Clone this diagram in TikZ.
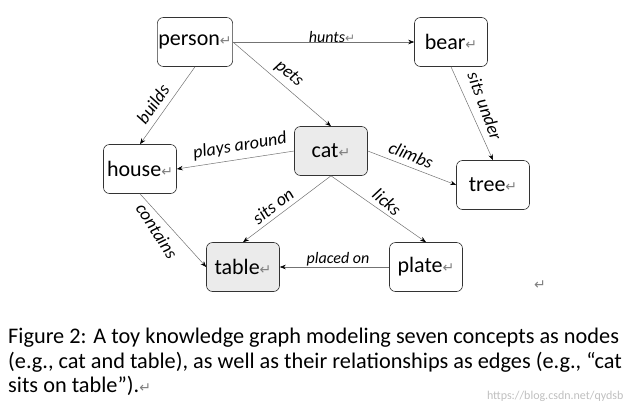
\documentclass[tikz,border=0pt]{standalone}
\usepackage{fontspec}
\setmainfont{Carlito}
\newfontfamily\symf{DejaVu Sans}
\usetikzlibrary{arrows.meta}
\newcommand{\parmk}{{\color{gray}\symf\fontsize{14}{14}\selectfont ↵}}
\newcommand{\parmks}{{\color{gray}\symf\fontsize{12}{12}\selectfont ↵}}
\begin{document}
\begin{tikzpicture}[x=1pt,y=-1pt,
  nd/.style={draw=black!80, rounded corners=6pt, minimum width=73pt, minimum height=49pt, font=\fontsize{22}{22}\selectfont, line width=0.6pt, inner sep=1pt},
  gr/.style={fill=black!8},
  ed/.style={draw=black!55, line width=0.5pt, -{Stealth[length=6pt,width=4.5pt,black]}},
  lb/.style={font=\itshape\fontsize{18}{18}\selectfont, inner sep=1pt}]
\useasboundingbox (0,0) rectangle (635,413);
\node[nd] (person) at (195,42) {person\parmk};
\node[nd] (bear) at (451,42) {bear\parmk};
\node[nd,gr] (cat) at (331,151) {cat\parmk};
\node[nd] (house) at (140,169) {house\parmk};
\node[nd] (tree) at (493,185) {tree\parmk};
\node[nd,gr] (table) at (243,267) {table\parmk};
\node[nd] (plate) at (426,267) {plate\parmk};
\draw[ed] (person.east) -- (bear.west);
\draw[ed] (person.east) -- (cat.north);
\draw[ed] (person.south) -- (house.north);
\draw[ed] (bear.south) -- (tree.north);
\draw[ed] (cat.west) -- (house.east);
\draw[ed] (cat.east) -- (tree.west);
\draw[ed] (cat.south) -- (table.north);
\draw[ed] (cat.south) -- (plate.north);
\draw[ed] (house.south) -- (table.west);
\draw[ed] (plate.west) -- (table.east);
\node[lb, font=\itshape\fontsize{16}{16}\selectfont] (l1) at (332,37) {hunts\parmks};
\node[lb,rotate=-40] (l2) at (289,74) {pets};
\node[lb,rotate=55] (l3) at (153,104) {builds};
\node[lb,rotate=-70] (l4) at (485,106) {sits under};
\node[lb,rotate=9] (l5) at (240,146) {plays around};
\node[lb,rotate=-22] (l6) at (411,155) {climbs};
\node[lb,rotate=38] (l7) at (273,206) {sits on};
\node[lb,rotate=-40] (l8) at (387,202) {licks};
\node[lb,rotate=-57] (l9) at (157,231) {contains};
\node[lb, font=\itshape\fontsize{16}{16}\selectfont] (l10) at (338,259) {placed on};
\node (pm) at (540,285) {\parmk};
\node[anchor=west, align=left, font=\fontsize{22.3}{24.5}\selectfont, inner sep=0pt] (cap) at (8,362)
 {Figure 2: A toy knowledge graph modeling seven concepts as nodes\\(e.g., cat and table), as well as their relationships as edges (e.g., “cat\\sits on table”).\parmk};
\node[anchor=east, text=black!25, font=\fontsize{12}{12}\selectfont] (wm) at (627,396) {https://blog.csdn.net/qydsb};
\end{tikzpicture}
\end{document}
